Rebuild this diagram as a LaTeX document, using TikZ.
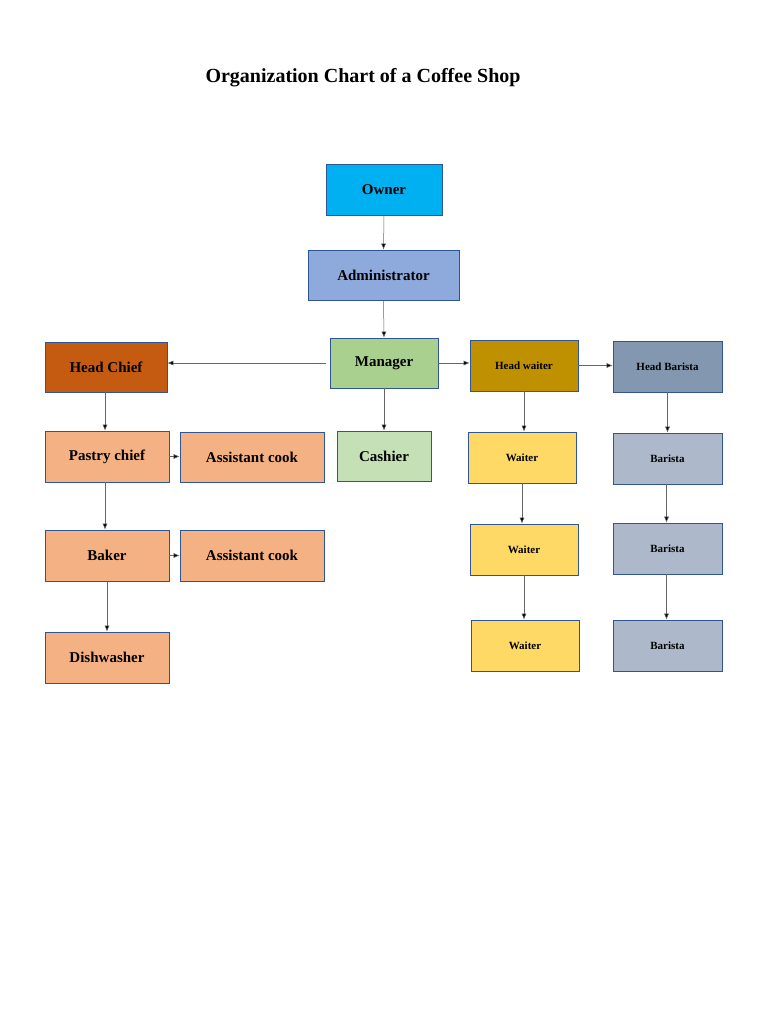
\documentclass[tikz,border=0pt]{standalone}
\usepackage{fontspec}
\setmainfont{Liberation Serif}
\usetikzlibrary{arrows.meta}
\definecolor{bd}{HTML}{2F5597}
\definecolor{cOwner}{HTML}{00B0F0}
\definecolor{cAdm}{HTML}{8EA9DB}
\definecolor{cMgr}{HTML}{A9D08E}
\definecolor{cHC}{HTML}{C55A11}
\definecolor{cHW}{HTML}{BF9000}
\definecolor{cHB}{HTML}{8497B0}
\definecolor{cKit}{HTML}{F4B183}
\definecolor{cCash}{HTML}{C5E0B4}
\definecolor{cWait}{HTML}{FFD966}
\definecolor{cBar}{HTML}{ADB9CA}
\tikzset{
 box/.style={draw=bd, line width=0.8pt, minimum width=#1, minimum height=51pt, inner sep=0pt, font=\bfseries\fontsize{15}{18}\selectfont},
 sbox/.style={box=#1, font=\bfseries\fontsize{11}{13}\selectfont},
 arr/.style={draw=black!60, line width=0.5pt, -{Latex[length=6pt,width=5pt,fill=black]}}
}
\begin{document}
\begin{tikzpicture}[x=1pt,y=-1pt]
\useasboundingbox (0,0) rectangle (768,1024);
\node (title) at (363,78) {\bfseries\fontsize{20}{24}\selectfont Organization Chart of a Coffee Shop};
\node[box=116pt, fill=cOwner] (own) at (384,190) {Owner};
\node[box=151pt, fill=cAdm, minimum height=50pt] (adm) at (383.5,275) {Administrator};
\node[box=108pt, fill=cMgr, minimum height=50pt] (mgr) at (384,363) {Manager};
\node[box=122pt, fill=cHC, minimum height=50pt] (hc) at (106,367) {Head Chief};
\node[sbox=108pt, fill=cHW] (hw) at (524,365.5) {Head waiter};
\node[sbox=109pt, fill=cHB] (hb) at (667.5,366.5) {Head Barista};
\node[box=124pt, fill=cKit] (pc) at (107,456.5) {Pastry chief};
\node[box=144pt, fill=cKit, minimum height=50pt] (ac1) at (252,457) {Assistant cook};
\node[box=94pt, fill=cCash, minimum height=50pt] (cash) at (384,456) {Cashier};
\node[sbox=108pt, fill=cWait] (w1) at (522,457.5) {Waiter};
\node[sbox=109pt, fill=cBar] (b1) at (667.5,458.5) {Barista};
\node[box=124pt, fill=cKit] (bak) at (107,555.5) {Baker};
\node[box=144pt, fill=cKit] (ac2) at (252,555.5) {Assistant cook};
\node[sbox=108pt, fill=cWait] (w2) at (524,549.5) {Waiter};
\node[sbox=109pt, fill=cBar] (b2) at (667.5,548.5) {Barista};
\node[box=124pt, fill=cKit] (dish) at (107,657.5) {Dishwasher};
\node[sbox=108pt, fill=cWait] (w3) at (525,645.5) {Waiter};
\node[sbox=109pt, fill=cBar] (b3) at (667.5,645.5) {Barista};
\draw[arr] (own.south) -- (adm.north);
\draw[arr] (adm.south) -- (mgr.north);
\draw[arr] ([xshift=-4pt]mgr.west) -- (mgr.west -| hc.east);
\draw[arr] (mgr.east) -- (mgr.east -| hw.west);
\draw[arr] (hw.east) -- (hw.east -| hb.west);
\draw[arr] (mgr.south) -- (cash.north);
\draw[arr] ([xshift=-1pt]hc.south) -- ([xshift=-1pt]hc.south |- pc.north);
\draw[arr] (pc.east) -- (pc.east -| ac1.west);
\draw[arr] ([xshift=-2pt]pc.south) -- ([xshift=-2pt]pc.south |- bak.north);
\draw[arr] (bak.east) -- (bak.east -| ac2.west);
\draw[arr] (bak.south) -- (dish.north);
\draw[arr] (hw.south) -- ([xshift=2pt]w1.north);
\draw[arr] (w1.south) -- ([xshift=-2pt]w2.north);
\draw[arr] (w2.south) -- ([xshift=-1pt]w3.north);
\draw[arr] (hb.south) -- (b1.north);
\draw[arr] ([xshift=-1pt]b1.south) -- ([xshift=-1pt]b1.south |- b2.north);
\draw[arr] ([xshift=-1pt]b2.south) -- ([xshift=-1pt]b2.south |- b3.north);
\end{tikzpicture}
\end{document}
